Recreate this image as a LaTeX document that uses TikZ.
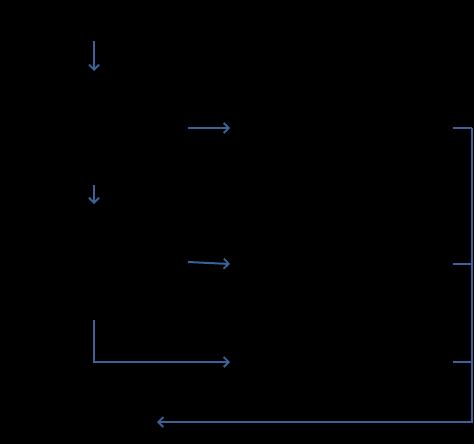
\documentclass[tikz,border=0pt]{standalone}
\usetikzlibrary{arrows.meta}
\definecolor{linkblue}{RGB}{58,98,155}
\tikzset{
  link/.style={draw=linkblue, line width=2pt, -{Straight Barb[length=5pt,width=10pt,line width=1.8pt]}},
  plain/.style={draw=linkblue, line width=2pt}
}
\begin{document}
\begin{tikzpicture}[x=1pt,y=-1pt]
\fill[black] (0,0) rectangle (474,444);
\useasboundingbox (0,0) rectangle (474,444);
% anchor coordinates
\coordinate (a1s) at (94,41);   \coordinate (a1e) at (94,71);
\coordinate (a2s) at (188,128); \coordinate (a2e) at (230,128);
\coordinate (a3s) at (94,185);  \coordinate (a3e) at (94,204);
\coordinate (a4s) at (188,262); \coordinate (a4e) at (230,264);
\coordinate (a5s) at (94,320);  \coordinate (a5c) at (94,362); \coordinate (a5e) at (230,362);
\coordinate (r1) at (453,128);  \coordinate (r1c) at (472,128);
\coordinate (r2) at (453,264);  \coordinate (r2c) at (472,264);
\coordinate (r3) at (453,362);  \coordinate (r3c) at (472,362);
\coordinate (rb) at (472,422);  \coordinate (fe) at (157,422);
% arrows
\draw[link] (a1s) -- (a1e);
\draw[link] (a2s) -- (a2e);
\draw[link] (a3s) -- (a3e);
\draw[link] (a4s) -- (a4e);
\draw[link] (a5s) -- (a5c) -- (a5e);
\draw[plain] (r1) -- (r1c);
\draw[plain] (r2) -- (r2c);
\draw[plain] (r3) -- (r3c);
\draw[link] (r1c) -- (rb) -- (fe);
\end{tikzpicture}
\end{document}
